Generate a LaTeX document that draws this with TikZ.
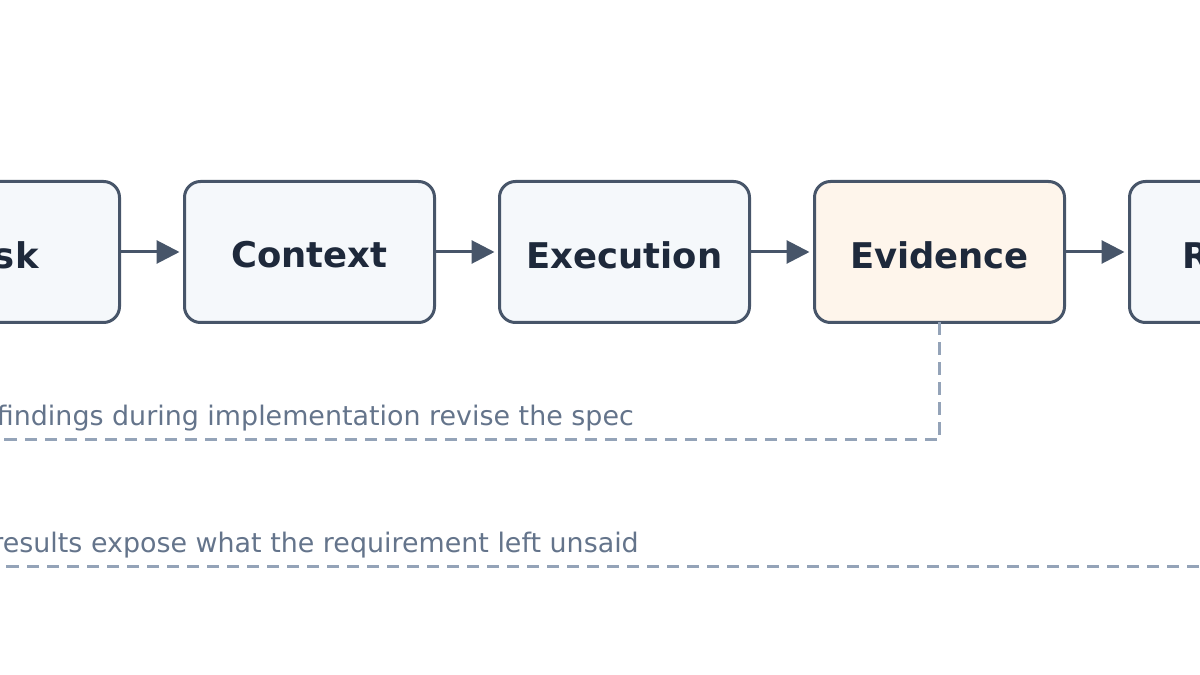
\documentclass[tikz,border=0pt]{standalone}
\usepackage{fontspec}
\setmainfont{DejaVu Sans}
\usepackage{tikz}
\usetikzlibrary{positioning,arrows.meta}
\definecolor{StageLine}{HTML}{475569}
\definecolor{StageFill}{HTML}{F5F8FB}
\definecolor{EvidenceFill}{HTML}{FEF5EB}
\definecolor{StageInk}{HTML}{1E293B}
\definecolor{LoopLine}{HTML}{94A3B8}
\definecolor{LoopInk}{HTML}{64748B}
% stage titles sit a little below the box centre
\newcommand{\stagetitle}[1]{\raisebox{-3pt}[\height][\depth]{#1}}

\begin{document}
\begin{tikzpicture}[x=1pt, y=1pt, node distance=65pt, box/.style={draw=StageLine, line width=3pt, rounded corners=16pt, fill=StageFill, minimum width=250pt, minimum height=141pt, inner sep=0pt, outer sep=0pt, text=StageInk, font=\fontsize{35.4}{40}\selectfont\bfseries}, arr/.style={-{Triangle[length=23pt,width=23pt]}, line width=3pt, StageLine, shorten >=5pt}, loop/.style={LoopLine, line width=3pt, dash pattern=on 12.5pt off 7.5pt}, note/.style={text=LoopInk, inner sep=0pt, font=\fontsize{26.9}{32}\selectfont}]
\useasboundingbox (0,0) rectangle (1200,675);
\clip (0,0) rectangle (1200,675);
\node[box] (context) at (309.5,423) {\stagetitle{Context}};
\node[box, left=of context] (task) {\stagetitle{Task}};
\node[box, right=of context] (exec) {\stagetitle{Execution}};
\node[box, right=of exec, fill=EvidenceFill] (evid) {\stagetitle{Evidence}};
\node[box, right=of evid] (review) {\stagetitle{Review}};
\draw[arr] (task) -- (context);
\draw[arr] (context) -- (exec);
\draw[arr] (exec) -- (evid);
\draw[arr] (evid) -- (review);
% feedback loops running back to the left
\coordinate (specback) at (-60,235);
\coordinate (reqback) at (-60,108);
\draw[loop] (evid.south) |- (specback);
\draw[loop] (review.south) |- (reqback);
\node[note, anchor=base east] (specnote) at (634,249) {findings during implementation revise the spec};
\node[note, anchor=base east] (reqnote) at (639,122) {results expose what the requirement left unsaid};
\end{tikzpicture}
\end{document}
